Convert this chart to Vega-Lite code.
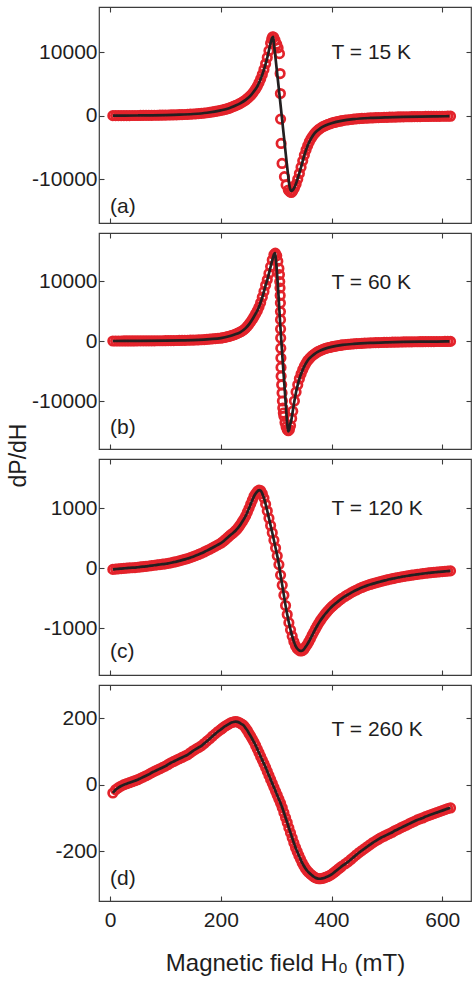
{
  "$schema": "https://vega.github.io/schema/vega-lite/v6.json",
  "padding": {"left": 6, "top": 5, "right": 4, "bottom": 4},
  "bounds": "flush",
  "spacing": 10,
  "config": {
    "font": "Liberation Sans",
    "view": {"stroke": "#3c3c3c", "strokeWidth": 1.2},
    "axis": {"grid": false, "domain": false, "tickSize": -5, "tickColor": "#3c3c3c", "tickWidth": 1.1,
      "labelFont": "Liberation Sans", "labelFontSize": 21, "labelColor": "#1e1e1e", "labelFlush": false, "labelOverlap": false,
      "titleFont": "Liberation Sans", "titleFontWeight": "normal", "titleColor": "#1e1e1e"},
    "axisLeft": {"labelPadding": 7},
    "axisBottom": {"labelPadding": 13}
  },
  "datasets": {
    "a_pts": [
      {"x":5,"y":20},{"x":10,"y":22},{"x":15,"y":25},{"x":20,"y":28},{"x":25,"y":30},{"x":30,"y":34},{"x":35,"y":38},{"x":40,"y":42},{"x":45,"y":46},{"x":50,"y":50},
      {"x":55,"y":55},{"x":60,"y":60},{"x":65,"y":65},{"x":70,"y":70},{"x":75,"y":75},{"x":80,"y":82},{"x":85,"y":88},{"x":90,"y":95},{"x":95,"y":102},{"x":100,"y":110},
      {"x":105,"y":120},{"x":110,"y":132},{"x":115,"y":145},{"x":120,"y":157},{"x":125,"y":170},{"x":130,"y":188},{"x":135,"y":208},{"x":140,"y":230},{"x":145,"y":254},{"x":150,"y":280},
      {"x":155,"y":314},{"x":160,"y":350},{"x":165,"y":390},{"x":170,"y":435},{"x":175,"y":480},{"x":180,"y":540},{"x":185,"y":610},{"x":190,"y":685},{"x":195,"y":765},{"x":200,"y":850},
      {"x":203,"y":910},{"x":206,"y":975},{"x":209,"y":1040},{"x":212,"y":1115},{"x":215,"y":1200},{"x":218,"y":1300},{"x":221,"y":1400},{"x":224,"y":1510},{"x":227,"y":1620},{"x":230,"y":1740},
      {"x":233,"y":1870},{"x":236,"y":2000},{"x":239,"y":2150},{"x":242,"y":2320},{"x":245,"y":2500},{"x":248,"y":2720},{"x":251,"y":2960},{"x":254,"y":3210},{"x":257,"y":3500},{"x":260,"y":3850},
      {"x":263,"y":4230},{"x":266,"y":4650},{"x":269,"y":5200},{"x":272,"y":5800},{"x":275,"y":6500},{"x":278,"y":7300},{"x":281,"y":8200},{"x":284,"y":9200},{"x":287,"y":10250},{"x":290,"y":11450},
      {"x":292,"y":12100},{"x":293.5,"y":12440},{"x":295.5,"y":12400},{"x":298,"y":11900},{"x":301,"y":11300},{"x":303.5,"y":10700},{"x":306,"y":9800},{"x":307.2,"y":6660},{"x":307.7,"y":3510},{"x":308,"y":-520},
      {"x":309,"y":-4360},{"x":310.7,"y":-7510},{"x":315,"y":-9600},{"x":318,"y":-10900},{"x":322,"y":-11700},{"x":325,"y":-12000},{"x":327.5,"y":-12080},{"x":330,"y":-11850},{"x":333,"y":-11400},{"x":336,"y":-10800},
      {"x":339,"y":-10000},{"x":342,"y":-9100},{"x":345,"y":-8100},{"x":348,"y":-7100},{"x":351,"y":-6200},{"x":354,"y":-5400},{"x":357,"y":-4700},{"x":360,"y":-4100},{"x":363,"y":-3600},{"x":366,"y":-3200},
      {"x":369,"y":-2850},{"x":372,"y":-2560},{"x":375,"y":-2300},{"x":378,"y":-2080},{"x":381,"y":-1900},{"x":384,"y":-1750},{"x":387,"y":-1620},{"x":390,"y":-1500},{"x":393,"y":-1390},{"x":396,"y":-1290},
      {"x":399,"y":-1200},{"x":402,"y":-1120},{"x":405,"y":-1050},{"x":408,"y":-980},{"x":411,"y":-920},{"x":414,"y":-860},{"x":417,"y":-810},{"x":420,"y":-760},
      {"x":425,"y":-690},{"x":430,"y":-630},{"x":435,"y":-580},{"x":440,"y":-530},{"x":445,"y":-490},{"x":450,"y":-450},{"x":455,"y":-420},{"x":460,"y":-390},{"x":465,"y":-365},{"x":470,"y":-340},
      {"x":475,"y":-320},{"x":480,"y":-300},{"x":485,"y":-282},{"x":490,"y":-265},{"x":495,"y":-250},{"x":500,"y":-235},{"x":505,"y":-220},{"x":510,"y":-208},{"x":515,"y":-196},{"x":520,"y":-185},
      {"x":525,"y":-175},{"x":530,"y":-165},{"x":535,"y":-155},{"x":540,"y":-147},{"x":545,"y":-139},{"x":550,"y":-130},{"x":555,"y":-124},{"x":560,"y":-118},{"x":565,"y":-112},{"x":570,"y":-106},
      {"x":575,"y":-100},{"x":580,"y":-95},{"x":585,"y":-90},{"x":590,"y":-85},{"x":595,"y":-80},{"x":600,"y":-75},{"x":605,"y":-70},{"x":610,"y":-65},{"x":615,"y":-60}
    ],
    "a_fit": [
      {"x":5,"y":20},{"x":25,"y":30},{"x":50,"y":50},{"x":75,"y":75},{"x":100,"y":110},{"x":125,"y":170},{"x":150,"y":280},{"x":175,"y":480},{"x":200,"y":850},{"x":215,"y":1200},
      {"x":225,"y":1550},{"x":235,"y":1950},{"x":245,"y":2500},{"x":255,"y":3300},{"x":262,"y":4100},{"x":267,"y":4800},{"x":272,"y":5800},{"x":277,"y":7000},{"x":282,"y":8500},{"x":286,"y":9900},
      {"x":289,"y":11100},{"x":291,"y":11800},{"x":293,"y":12300},{"x":294.5,"y":12440},{"x":296,"y":11300},{"x":298,"y":9810},{"x":310.7,"y":-520},{"x":322,"y":-9610},{"x":324,"y":-11000},{"x":326,"y":-11700},
      {"x":328,"y":-11850},{"x":331,"y":-11600},{"x":334,"y":-11100},{"x":337,"y":-10400},{"x":340,"y":-9600},{"x":345,"y":-8100},{"x":351,"y":-6200},{"x":357,"y":-4700},{"x":363,"y":-3600},{"x":370,"y":-2700},
      {"x":380,"y":-1950},{"x":390,"y":-1500},{"x":400,"y":-1170},{"x":420,"y":-760},{"x":440,"y":-530},{"x":470,"y":-340},{"x":500,"y":-235},{"x":530,"y":-165},{"x":560,"y":-118},{"x":590,"y":-85},{"x":613,"y":-62}
    ],
    "a_txt": [{"x":400,"y":9900,"t":"T = 15 K"},{"x":0,"y":-14330,"t":"(a)"}],
    "b_pts": [
      {"x":5,"y":0},{"x":10,"y":2},{"x":15,"y":4},{"x":20,"y":5},{"x":25,"y":7},{"x":30,"y":8},{"x":35,"y":10},{"x":40,"y":12},{"x":45,"y":13},{"x":50,"y":15},
      {"x":55,"y":18},{"x":60,"y":21},{"x":65,"y":24},{"x":70,"y":27},{"x":75,"y":30},{"x":80,"y":34},{"x":85,"y":38},{"x":90,"y":42},{"x":95,"y":46},{"x":100,"y":50},
      {"x":105,"y":57},{"x":110,"y":65},{"x":115,"y":74},{"x":120,"y":83},{"x":125,"y":92},{"x":130,"y":100},{"x":135,"y":112},{"x":140,"y":125},{"x":145,"y":140},{"x":150,"y":155},
      {"x":155,"y":172},{"x":160,"y":190},{"x":165,"y":210},{"x":170,"y":240},{"x":175,"y":275},{"x":180,"y":315},{"x":185,"y":355},{"x":190,"y":400},{"x":195,"y":440},{"x":200,"y":480},
      {"x":203,"y":530},{"x":206,"y":585},{"x":209,"y":645},{"x":212,"y":710},{"x":215,"y":780},{"x":218,"y":860},{"x":221,"y":950},{"x":224,"y":1040},{"x":227,"y":1150},{"x":230,"y":1270},
      {"x":233,"y":1400},{"x":236,"y":1540},{"x":239,"y":1700},{"x":242,"y":1900},{"x":245,"y":2150},{"x":248,"y":2450},{"x":251,"y":2800},{"x":254,"y":3180},{"x":257,"y":3600},{"x":260,"y":4050},
      {"x":263,"y":4550},{"x":266,"y":5050},{"x":269,"y":5650},{"x":272,"y":6400},{"x":275,"y":7300},{"x":278,"y":8250},{"x":281,"y":9300},{"x":284,"y":10200},{"x":287,"y":11250},{"x":290,"y":12400},
      {"x":293,"y":13500},{"x":296,"y":14400},{"x":298.5,"y":14650},{"x":301,"y":14200},{"x":303,"y":13300},{"x":305,"y":12100},{"x":306,"y":11070},{"x":306.5,"y":9900},{"x":307,"y":8830},{"x":307.3,"y":7600},
      {"x":307.7,"y":6330},{"x":307.8,"y":4900},{"x":307.9,"y":3560},{"x":308,"y":2000},{"x":308.2,"y":500},{"x":308.4,"y":-1200},{"x":308.6,"y":-2830},{"x":308.8,"y":-4400},{"x":309,"y":-5880},{"x":310,"y":-7300},
      {"x":310.7,"y":-8670},{"x":311.3,"y":-10000},{"x":312,"y":-11170},{"x":313,"y":-12000},{"x":314,"y":-12550},{"x":316,"y":-13600},{"x":318,"y":-14300},{"x":320,"y":-14750},{"x":322,"y":-14950},{"x":324,"y":-14750},
      {"x":326,"y":-14100},{"x":328,"y":-12900},{"x":330,"y":-11700},{"x":333,"y":-10000},{"x":336,"y":-8500},{"x":339,"y":-7300},{"x":342,"y":-6300},{"x":345,"y":-5500},{"x":348,"y":-4800},{"x":351,"y":-4200},
      {"x":354,"y":-3700},{"x":357,"y":-3250},{"x":360,"y":-2950},{"x":363,"y":-2650},{"x":366,"y":-2400},{"x":369,"y":-2180},{"x":372,"y":-1990},{"x":375,"y":-1820},{"x":378,"y":-1670},{"x":381,"y":-1540},
      {"x":384,"y":-1420},{"x":387,"y":-1320},{"x":390,"y":-1230},{"x":393,"y":-1150},{"x":396,"y":-1080},{"x":399,"y":-1010},{"x":402,"y":-950},{"x":405,"y":-890},{"x":408,"y":-840},{"x":411,"y":-790},
      {"x":414,"y":-745},{"x":417,"y":-700},{"x":420,"y":-660},
      {"x":425,"y":-610},{"x":430,"y":-560},{"x":435,"y":-520},{"x":440,"y":-480},{"x":445,"y":-445},{"x":450,"y":-415},{"x":455,"y":-385},{"x":460,"y":-360},{"x":465,"y":-335},{"x":470,"y":-315},
      {"x":475,"y":-295},{"x":480,"y":-278},{"x":485,"y":-262},{"x":490,"y":-248},{"x":495,"y":-235},{"x":500,"y":-222},{"x":505,"y":-210},{"x":510,"y":-199},{"x":515,"y":-188},{"x":520,"y":-178},
      {"x":525,"y":-169},{"x":530,"y":-160},{"x":535,"y":-152},{"x":540,"y":-144},{"x":545,"y":-137},{"x":550,"y":-130},{"x":555,"y":-124},{"x":560,"y":-118},{"x":565,"y":-112},{"x":570,"y":-107},
      {"x":575,"y":-102},{"x":580,"y":-97},{"x":585,"y":-92},{"x":590,"y":-88},{"x":595,"y":-84},{"x":600,"y":-80},{"x":605,"y":-76},{"x":610,"y":-72},{"x":615,"y":-68}
    ],
    "b_fit": [
      {"x":5,"y":0},{"x":50,"y":15},{"x":100,"y":50},{"x":130,"y":100},{"x":160,"y":190},{"x":180,"y":315},{"x":200,"y":480},{"x":215,"y":780},{"x":225,"y":1080},{"x":235,"y":1450},
      {"x":245,"y":2150},{"x":252,"y":2900},{"x":258,"y":3750},{"x":263,"y":4550},{"x":268,"y":5450},{"x":273,"y":6700},{"x":277,"y":7900},{"x":281,"y":9300},{"x":285,"y":10500},{"x":289,"y":12000},
      {"x":292,"y":13100},{"x":294,"y":13830},{"x":296,"y":14400},{"x":298,"y":14670},{"x":299.5,"y":13600},{"x":309,"y":500},{"x":318.5,"y":-12000},{"x":320.5,"y":-14200},{"x":322,"y":-15050},{"x":323.5,"y":-14800},
      {"x":325,"y":-14000},{"x":327,"y":-13400},{"x":330,"y":-11700},{"x":333,"y":-10000},{"x":336,"y":-8500},{"x":339,"y":-7300},{"x":342,"y":-6300},{"x":345,"y":-5500},{"x":351,"y":-4200},{"x":357,"y":-3250},
      {"x":363,"y":-2650},{"x":369,"y":-2180},{"x":375,"y":-1820},{"x":381,"y":-1540},{"x":390,"y":-1230},{"x":400,"y":-980},{"x":420,"y":-660},{"x":440,"y":-480},{"x":470,"y":-315},{"x":500,"y":-222},
      {"x":530,"y":-160},{"x":560,"y":-118},{"x":590,"y":-88},{"x":613,"y":-70}
    ],
    "b_txt": [{"x":400,"y":9670,"t":"T = 60 K"},{"x":0,"y":-14500,"t":"(b)"}],
    "c_pts": [
      {"x":5,"y":-20},{"x":10,"y":-15},{"x":15,"y":-10},{"x":20,"y":-6},{"x":25,"y":-2},{"x":30,"y":2},{"x":35,"y":5},{"x":40,"y":8},{"x":45,"y":11},{"x":50,"y":16},
      {"x":55,"y":21},{"x":60,"y":26},{"x":65,"y":31},{"x":70,"y":37},{"x":75,"y":43},{"x":80,"y":49},{"x":85,"y":55},{"x":90,"y":61},{"x":95,"y":67},{"x":100,"y":73},
      {"x":105,"y":80},{"x":110,"y":90},{"x":115,"y":100},{"x":120,"y":110},{"x":125,"y":122},{"x":130,"y":134},{"x":135,"y":147},{"x":140,"y":160},{"x":145,"y":176},{"x":150,"y":192},
      {"x":155,"y":210},{"x":160,"y":229},{"x":165,"y":248},{"x":170,"y":270},{"x":175,"y":292},{"x":180,"y":315},{"x":185,"y":340},{"x":190,"y":365},{"x":195,"y":390},{"x":200,"y":415},
      {"x":203,"y":435},{"x":206,"y":457},{"x":209,"y":480},{"x":212,"y":505},{"x":215,"y":530},{"x":218,"y":555},{"x":221,"y":577},{"x":224,"y":600},{"x":227,"y":627},{"x":230,"y":657},
      {"x":233,"y":692},{"x":236,"y":732},{"x":239,"y":775},{"x":242,"y":820},{"x":245,"y":870},{"x":248,"y":930},{"x":251,"y":995},{"x":254,"y":1065},{"x":257,"y":1130},{"x":260,"y":1195},
      {"x":263,"y":1240},{"x":266,"y":1275},{"x":269,"y":1298},{"x":272,"y":1290},{"x":275,"y":1240},{"x":278,"y":1165},{"x":281,"y":1065},{"x":284,"y":950},{"x":287,"y":830},{"x":290,"y":710},
      {"x":293,"y":590},{"x":296,"y":465},{"x":299,"y":335},{"x":302,"y":205},{"x":305,"y":60},{"x":308,"y":-115},{"x":311,"y":-283},{"x":314,"y":-450},{"x":317,"y":-620},{"x":320,"y":-770},
      {"x":323,"y":-905},{"x":326,"y":-1025},{"x":329,"y":-1130},{"x":332,"y":-1220},{"x":335,"y":-1290},{"x":338,"y":-1335},{"x":341,"y":-1362},{"x":344,"y":-1375},{"x":347,"y":-1372},{"x":350,"y":-1350},
      {"x":353,"y":-1310},{"x":356,"y":-1270},{"x":359,"y":-1222},{"x":362,"y":-1170},{"x":365,"y":-1115},{"x":368,"y":-1062},{"x":371,"y":-1010},{"x":374,"y":-960},{"x":377,"y":-913},{"x":380,"y":-870},
      {"x":383,"y":-830},{"x":386,"y":-792},{"x":389,"y":-757},{"x":392,"y":-724},{"x":395,"y":-693},{"x":398,"y":-664},{"x":401,"y":-637},{"x":404,"y":-612},{"x":407,"y":-588},{"x":410,"y":-565},
      {"x":413,"y":-543},{"x":416,"y":-522},{"x":419,"y":-502},
      {"x":425,"y":-465},{"x":430,"y":-437},{"x":435,"y":-410},{"x":440,"y":-385},{"x":445,"y":-362},{"x":450,"y":-340},{"x":455,"y":-320},{"x":460,"y":-302},{"x":465,"y":-285},{"x":470,"y":-270},
      {"x":475,"y":-256},{"x":480,"y":-243},{"x":485,"y":-231},{"x":490,"y":-219},{"x":495,"y":-207},{"x":500,"y":-195},{"x":505,"y":-184},{"x":510,"y":-174},{"x":515,"y":-164},{"x":520,"y":-155},
      {"x":525,"y":-146},{"x":530,"y":-138},{"x":535,"y":-130},{"x":540,"y":-123},{"x":545,"y":-116},{"x":550,"y":-109},{"x":555,"y":-102},{"x":560,"y":-96},{"x":565,"y":-90},{"x":570,"y":-84},
      {"x":575,"y":-79},{"x":580,"y":-74},{"x":585,"y":-69},{"x":590,"y":-64},{"x":595,"y":-60},{"x":600,"y":-56},{"x":605,"y":-52},{"x":610,"y":-48},{"x":615,"y":-45}
    ],
    "c_txt": [{"x":400,"y":983,"t":"T = 120 K"},{"x":0,"y":-1395,"t":"(c)"}],
    "d_pts": [
      {"x":5,"y":-25},{"x":10,"y":-15},{"x":15,"y":-9},{"x":20,"y":-4},{"x":25,"y":0},{"x":30,"y":3},{"x":35,"y":6},{"x":40,"y":9},{"x":45,"y":12},{"x":50,"y":15},
      {"x":55,"y":19},{"x":60,"y":23},{"x":65,"y":27},{"x":70,"y":31},{"x":75,"y":36},{"x":80,"y":40},{"x":85,"y":44},{"x":90,"y":48},{"x":95,"y":52},{"x":100,"y":56},
      {"x":105,"y":61},{"x":110,"y":66},{"x":115,"y":70},{"x":120,"y":74},{"x":125,"y":78},{"x":130,"y":82},{"x":135,"y":86},{"x":140,"y":90},{"x":145,"y":96},{"x":150,"y":102},
      {"x":155,"y":107},{"x":160,"y":112},{"x":165,"y":117},{"x":170,"y":124},{"x":175,"y":131},{"x":180,"y":138},{"x":185,"y":146},{"x":190,"y":153},{"x":195,"y":160},{"x":200,"y":166},
      {"x":203,"y":170},{"x":206,"y":174},{"x":209,"y":177},{"x":212,"y":180},{"x":215,"y":183},{"x":218,"y":186},{"x":221,"y":188},{"x":224,"y":189},{"x":227,"y":190},{"x":230,"y":189},
      {"x":233,"y":187},{"x":236,"y":184},{"x":239,"y":181},{"x":242,"y":177},{"x":245,"y":170},{"x":248,"y":163},{"x":251,"y":154},{"x":254,"y":146},{"x":257,"y":137},{"x":260,"y":128},
      {"x":263,"y":118},{"x":266,"y":107},{"x":269,"y":96},{"x":272,"y":85},{"x":275,"y":74},{"x":278,"y":63},{"x":281,"y":52},{"x":284,"y":40},{"x":287,"y":28},{"x":290,"y":16},
      {"x":293,"y":4},{"x":296,"y":-8},{"x":299,"y":-20},{"x":302,"y":-32},{"x":305,"y":-44},{"x":308,"y":-56},{"x":311,"y":-69},{"x":314,"y":-84},{"x":317,"y":-99},{"x":320,"y":-114},
      {"x":323,"y":-130},{"x":326,"y":-145},{"x":329,"y":-160},{"x":332,"y":-175},{"x":335,"y":-189},{"x":338,"y":-201},{"x":341,"y":-213},{"x":344,"y":-224},{"x":347,"y":-235},{"x":350,"y":-244},
      {"x":353,"y":-252},{"x":356,"y":-259},{"x":359,"y":-264},{"x":362,"y":-269},{"x":365,"y":-273},{"x":368,"y":-277},{"x":371,"y":-280},{"x":374,"y":-282},{"x":377,"y":-283},{"x":380,"y":-283},
      {"x":383,"y":-282},{"x":386,"y":-281},{"x":389,"y":-279},{"x":392,"y":-277},{"x":395,"y":-275},{"x":398,"y":-272},{"x":401,"y":-269},{"x":404,"y":-265},{"x":407,"y":-261},{"x":410,"y":-257},
      {"x":413,"y":-253},{"x":416,"y":-249},{"x":419,"y":-245},
      {"x":425,"y":-238},{"x":430,"y":-232},{"x":435,"y":-225},{"x":440,"y":-218},{"x":445,"y":-211},{"x":450,"y":-204},{"x":455,"y":-198},{"x":460,"y":-192},{"x":465,"y":-186},{"x":470,"y":-180},
      {"x":475,"y":-174},{"x":480,"y":-169},{"x":485,"y":-164},{"x":490,"y":-159},{"x":495,"y":-155},{"x":500,"y":-151},{"x":505,"y":-147},{"x":510,"y":-143},{"x":515,"y":-138},{"x":520,"y":-134},
      {"x":525,"y":-130},{"x":530,"y":-126},{"x":535,"y":-122},{"x":540,"y":-118},{"x":545,"y":-114},{"x":550,"y":-110},{"x":555,"y":-106},{"x":560,"y":-103},{"x":565,"y":-100},{"x":570,"y":-96},
      {"x":575,"y":-93},{"x":580,"y":-90},{"x":585,"y":-87},{"x":590,"y":-84},{"x":595,"y":-81},{"x":600,"y":-78},{"x":605,"y":-75},{"x":610,"y":-72},{"x":615,"y":-70}
    ],
    "d_txt": [{"x":400,"y":165,"t":"T = 260 K"},{"x":0,"y":-285,"t":"(d)"}]
  },
  "vconcat": [
    {
      "width": 372, "height": 216,
      "resolve": {"axis": {"x": "independent", "y": "independent"}},
      "layer": [
        {"data": {"name": "a_pts"},
         "mark": {"type": "point", "shape": "circle", "filled": false, "size": 72, "strokeWidth": 2.7, "color": "#e3232b", "opacity": 1},
         "encoding": {
           "x": {"field": "x", "type": "quantitative", "scale": {"domain": [-20, 652], "nice": false, "zero": false}, "axis": {"orient": "bottom", "values": [0, 200, 400, 600], "labels": false, "title": null}},
           "y": {"field": "y", "type": "quantitative", "scale": {"domain": [-16900, 17150], "nice": false, "zero": false}, "axis": {"orient": "left", "values": [-10000, 0, 10000], "title": null, "labelExpr": "datum.value < 0 ? '-' + format(-datum.value, 'd') : format(datum.value, 'd')"}}
         }},
        {"data": {"name": "a_fit"},
         "mark": {"type": "line", "color": "#231f20", "strokeWidth": 2.7, "interpolate": "monotone"},
         "encoding": {
           "x": {"field": "x", "type": "quantitative", "axis": {"orient": "top", "values": [0, 200, 400, 600], "labels": false, "title": null}},
           "y": {"field": "y", "type": "quantitative", "axis": {"orient": "right", "values": [-10000, 0, 10000], "labels": false, "title": null}}
         }},
        {"data": {"name": "a_txt"},
         "mark": {"type": "text", "align": "left", "baseline": "middle", "font": "Liberation Sans", "fontSize": 21, "color": "#1e1e1e"},
         "encoding": {
           "x": {"field": "x", "type": "quantitative", "axis": null},
           "y": {"field": "y", "type": "quantitative", "axis": null},
           "text": {"field": "t"}
         }}
      ]
    },
    {
      "width": 372, "height": 216,
      "resolve": {"axis": {"x": "independent", "y": "independent"}},
      "layer": [
        {"data": {"name": "b_pts"},
         "mark": {"type": "point", "shape": "circle", "filled": false, "size": 72, "strokeWidth": 2.7, "color": "#e3232b", "opacity": 1},
         "encoding": {
           "x": {"field": "x", "type": "quantitative", "scale": {"domain": [-20, 652], "nice": false, "zero": false}, "axis": {"orient": "bottom", "values": [0, 200, 400, 600], "labels": false, "title": null}},
           "y": {"field": "y", "type": "quantitative", "scale": {"domain": [-18000, 18000], "nice": false, "zero": false}, "axis": {"orient": "left", "values": [-10000, 0, 10000], "title": "dP/dH", "titleFontSize": 23, "titleAngle": -90, "titleAlign": "center", "titleBaseline": "alphabetic", "titleX": -73.5, "titleY": 222, "labelExpr": "datum.value < 0 ? '-' + format(-datum.value, 'd') : format(datum.value, 'd')"}}
         }},
        {"data": {"name": "b_fit"},
         "mark": {"type": "line", "color": "#231f20", "strokeWidth": 2.7, "interpolate": "monotone"},
         "encoding": {
           "x": {"field": "x", "type": "quantitative", "axis": {"orient": "top", "values": [0, 200, 400, 600], "labels": false, "title": null}},
           "y": {"field": "y", "type": "quantitative", "axis": {"orient": "right", "values": [-10000, 0, 10000], "labels": false, "title": null}}
         }},
        {"data": {"name": "b_txt"},
         "mark": {"type": "text", "align": "left", "baseline": "middle", "font": "Liberation Sans", "fontSize": 21, "color": "#1e1e1e"},
         "encoding": {
           "x": {"field": "x", "type": "quantitative", "axis": null},
           "y": {"field": "y", "type": "quantitative", "axis": null},
           "text": {"field": "t"}
         }}
      ]
    },
    {
      "width": 372, "height": 216,
      "resolve": {"axis": {"x": "independent", "y": "independent"}},
      "layer": [
        {"data": {"name": "c_pts"},
         "mark": {"type": "point", "shape": "circle", "filled": false, "size": 72, "strokeWidth": 2.7, "color": "#e3232b", "opacity": 1},
         "encoding": {
           "x": {"field": "x", "type": "quantitative", "scale": {"domain": [-20, 652], "nice": false, "zero": false}, "axis": {"orient": "bottom", "values": [0, 200, 400, 600], "labels": false, "title": null}},
           "y": {"field": "y", "type": "quantitative", "scale": {"domain": [-1775, 1815], "nice": false, "zero": false}, "axis": {"orient": "left", "values": [-1000, 0, 1000], "title": null, "labelExpr": "datum.value < 0 ? '-' + format(-datum.value, 'd') : format(datum.value, 'd')"}}
         }},
        {"data": {"name": "c_pts"},
         "mark": {"type": "line", "color": "#231f20", "strokeWidth": 2.7, "interpolate": "monotone"},
         "encoding": {
           "x": {"field": "x", "type": "quantitative", "axis": {"orient": "top", "values": [0, 200, 400, 600], "labels": false, "title": null}},
           "y": {"field": "y", "type": "quantitative", "axis": {"orient": "right", "values": [-1000, 0, 1000], "labels": false, "title": null}}
         }},
        {"data": {"name": "c_txt"},
         "mark": {"type": "text", "align": "left", "baseline": "middle", "font": "Liberation Sans", "fontSize": 21, "color": "#1e1e1e"},
         "encoding": {
           "x": {"field": "x", "type": "quantitative", "axis": null},
           "y": {"field": "y", "type": "quantitative", "axis": null},
           "text": {"field": "t"}
         }}
      ]
    },
    {
      "width": 372, "height": 216,
      "resolve": {"axis": {"x": "independent", "y": "independent"}},
      "layer": [
        {"data": {"name": "d_pts"},
         "mark": {"type": "point", "shape": "circle", "filled": false, "size": 72, "strokeWidth": 2.7, "color": "#e3232b", "opacity": 1},
         "encoding": {
           "x": {"field": "x", "type": "quantitative", "scale": {"domain": [-20, 652], "nice": false, "zero": false}, "axis": {"orient": "bottom", "values": [0, 200, 400, 600], "title": "Magnetic field H₀ (mT)", "titleFontSize": 24, "titleBaseline": "alphabetic", "titleY": 69}},
           "y": {"field": "y", "type": "quantitative", "scale": {"domain": [-350, 300], "nice": false, "zero": false}, "axis": {"orient": "left", "values": [-200, 0, 200], "title": null, "labelExpr": "datum.value < 0 ? '-' + format(-datum.value, 'd') : format(datum.value, 'd')"}}
         }},
        {"data": {"name": "d_pts"},
         "mark": {"type": "line", "color": "#231f20", "strokeWidth": 2.7, "interpolate": "monotone"},
         "encoding": {
           "x": {"field": "x", "type": "quantitative", "axis": {"orient": "top", "values": [0, 200, 400, 600], "labels": false, "title": null}},
           "y": {"field": "y", "type": "quantitative", "axis": {"orient": "right", "values": [-200, 0, 200], "labels": false, "title": null}}
         }},
        {"data": {"name": "d_txt"},
         "mark": {"type": "text", "align": "left", "baseline": "middle", "font": "Liberation Sans", "fontSize": 21, "color": "#1e1e1e"},
         "encoding": {
           "x": {"field": "x", "type": "quantitative", "axis": null},
           "y": {"field": "y", "type": "quantitative", "axis": null},
           "text": {"field": "t"}
         }}
      ]
    }
  ]
}
